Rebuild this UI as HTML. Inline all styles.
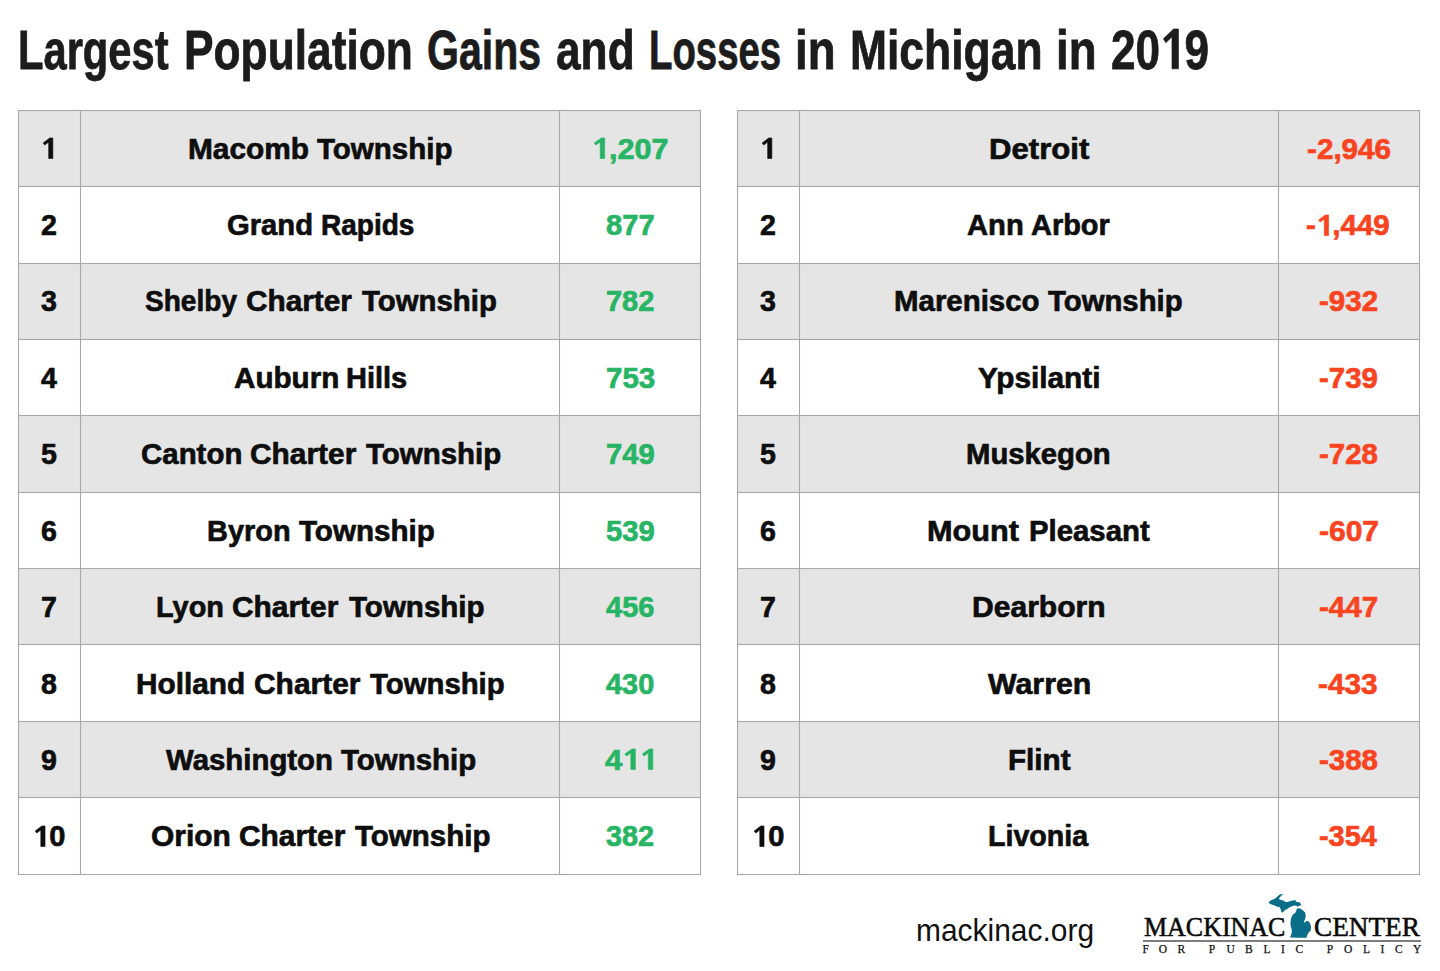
<!DOCTYPE html>
<html><head><meta charset="utf-8"><style>
html,body{margin:0;padding:0;background:#fff;}
body{width:1440px;height:971px;position:relative;overflow:hidden;font-family:"Liberation Sans",sans-serif;}
.bg{position:absolute;background:#e5e5e5;}
.hl{position:absolute;height:1px;background:#a9a9a9;box-shadow:0 0 1px rgba(0,0,0,0.18);}
.vl{position:absolute;width:1px;background:#a9a9a9;box-shadow:0 0 1px rgba(0,0,0,0.18);}
.t{position:absolute;-webkit-text-stroke:0.65px currentColor;font-weight:bold;font-size:28.6px;line-height:40px;height:40px;white-space:nowrap;transform-origin:0 0;}
.ctr{text-align:center;}
.one{display:inline-block;vertical-align:baseline;overflow:visible;}
.one path{fill:currentColor;stroke:currentColor;stroke-width:22;stroke-linejoin:miter;}
.ti .one path{stroke-width:14;}
.k{color:#0e0e0e;}
.g{color:#27b565;}
.r{color:#f9441f;}
.ti{font-size:55.6px;line-height:70px;height:70px;color:#1c1c1c;-webkit-text-stroke:0.8px #1c1c1c;}
.url{-webkit-text-stroke:0;font-weight:normal;font-size:30.5px;line-height:40px;height:40px;color:#111;}
.lg{-webkit-text-stroke:0.55px #0a0a0a;font-family:"Liberation Serif",serif;font-weight:normal;font-size:27.6px;line-height:30px;height:30px;color:#0a0a0a;}
.rule{position:absolute;left:1143px;top:940px;width:278px;height:2px;background:#7d7d7d;}
.fpp{position:absolute;-webkit-text-stroke:0.25px #111;font-family:"Liberation Serif",serif;font-size:11.5px;line-height:14px;color:#111;}
</style></head><body>
<div class="bg" style="left:18px;top:110px;width:682px;height:76px"></div>
<div class="bg" style="left:737px;top:110px;width:682px;height:76px"></div>
<div class="bg" style="left:18px;top:263px;width:682px;height:76px"></div>
<div class="bg" style="left:737px;top:263px;width:682px;height:76px"></div>
<div class="bg" style="left:18px;top:415px;width:682px;height:77px"></div>
<div class="bg" style="left:737px;top:415px;width:682px;height:77px"></div>
<div class="bg" style="left:18px;top:568px;width:682px;height:76px"></div>
<div class="bg" style="left:737px;top:568px;width:682px;height:76px"></div>
<div class="bg" style="left:18px;top:721px;width:682px;height:76px"></div>
<div class="bg" style="left:737px;top:721px;width:682px;height:76px"></div>
<div class="hl" style="left:18px;top:110px;width:683px"></div>
<div class="hl" style="left:18px;top:186px;width:683px"></div>
<div class="hl" style="left:18px;top:263px;width:683px"></div>
<div class="hl" style="left:18px;top:339px;width:683px"></div>
<div class="hl" style="left:18px;top:415px;width:683px"></div>
<div class="hl" style="left:18px;top:492px;width:683px"></div>
<div class="hl" style="left:18px;top:568px;width:683px"></div>
<div class="hl" style="left:18px;top:644px;width:683px"></div>
<div class="hl" style="left:18px;top:721px;width:683px"></div>
<div class="hl" style="left:18px;top:797px;width:683px"></div>
<div class="hl" style="left:18px;top:874px;width:683px"></div>
<div class="vl" style="left:18px;top:110px;height:765px"></div>
<div class="vl" style="left:80px;top:110px;height:765px"></div>
<div class="vl" style="left:559px;top:110px;height:765px"></div>
<div class="vl" style="left:700px;top:110px;height:765px"></div>
<div class="hl" style="left:737px;top:110px;width:683px"></div>
<div class="hl" style="left:737px;top:186px;width:683px"></div>
<div class="hl" style="left:737px;top:263px;width:683px"></div>
<div class="hl" style="left:737px;top:339px;width:683px"></div>
<div class="hl" style="left:737px;top:415px;width:683px"></div>
<div class="hl" style="left:737px;top:492px;width:683px"></div>
<div class="hl" style="left:737px;top:568px;width:683px"></div>
<div class="hl" style="left:737px;top:644px;width:683px"></div>
<div class="hl" style="left:737px;top:721px;width:683px"></div>
<div class="hl" style="left:737px;top:797px;width:683px"></div>
<div class="hl" style="left:737px;top:874px;width:683px"></div>
<div class="vl" style="left:737px;top:110px;height:765px"></div>
<div class="vl" style="left:799px;top:110px;height:765px"></div>
<div class="vl" style="left:1278px;top:110px;height:765px"></div>
<div class="vl" style="left:1419px;top:110px;height:765px"></div>
<div class="t k" id="ln0_0" style="left:187.79px;top:128.60px;transform:scaleX(1.0436)">Macomb</div>
<div class="t k" id="ln0_1" style="left:316.85px;top:128.60px;transform:scaleX(1.0318)">Township</div>
<div class="t g" id="lv0" style="left:591.62px;top:128.60px;transform:scaleX(1.0684)"><svg class="one" viewBox="0 0 556 716" width="0.556em" height="0.716em"><path d="M304,0 L414,0 L414,716 L269,716 L269,141 L128,247 L75,176 Z"/></svg>,207</div>
<div class="t k" id="rn0_0" style="left:988.96px;top:128.60px;transform:scaleX(1.0890)">Detroit</div>
<div class="t r" id="rv0" style="left:1306.94px;top:128.60px;transform:scaleX(1.0374)">-2,946</div>
<div class="t k ctr" id="lr0" style="left:18px;top:128.60px;width:62px"><svg class="one" viewBox="0 0 556 716" width="0.556em" height="0.716em"><path d="M304,0 L414,0 L414,716 L269,716 L269,141 L128,247 L75,176 Z"/></svg></div>
<div class="t k ctr" id="rr0" style="left:737px;top:128.60px;width:62px"><svg class="one" viewBox="0 0 556 716" width="0.556em" height="0.716em"><path d="M304,0 L414,0 L414,716 L269,716 L269,141 L128,247 L75,176 Z"/></svg></div>
<div class="t k" id="ln1_0" style="left:227.08px;top:205.00px;transform:scaleX(1.0217)">Grand</div>
<div class="t k" id="ln1_1" style="left:321.36px;top:205.00px;transform:scaleX(0.9803)">Rapids</div>
<div class="t g" id="lv1" style="left:605.51px;top:205.00px;transform:scaleX(1.0186)">877</div>
<div class="t k" id="rn1_0" style="left:966.60px;top:205.00px;transform:scaleX(1.0208)">Ann</div>
<div class="t k" id="rn1_1" style="left:1030.80px;top:205.00px;transform:scaleX(1.0117)">Arbor</div>
<div class="t r" id="rv1" style="left:1306.45px;top:205.00px;transform:scaleX(1.0329)">-<svg class="one" viewBox="0 0 556 716" width="0.556em" height="0.716em"><path d="M304,0 L414,0 L414,716 L269,716 L269,141 L128,247 L75,176 Z"/></svg>,449</div>
<div class="t k ctr" id="lr1" style="left:18px;top:205.00px;width:62px">2</div>
<div class="t k ctr" id="rr1" style="left:737px;top:205.00px;width:62px">2</div>
<div class="t k" id="ln2_0" style="left:144.75px;top:281.40px;transform:scaleX(0.9813)">Shelby</div>
<div class="t k" id="ln2_1" style="left:246.00px;top:281.40px;transform:scaleX(1.0418)">Charter</div>
<div class="t k" id="ln2_2" style="left:362.04px;top:281.40px;transform:scaleX(1.0268)">Township</div>
<div class="t g" id="lv2" style="left:605.60px;top:281.40px;transform:scaleX(1.0136)">782</div>
<div class="t k" id="rn2_0" style="left:893.92px;top:281.40px;transform:scaleX(1.0292)">Marenisco</div>
<div class="t k" id="rn2_1" style="left:1048.35px;top:281.40px;transform:scaleX(1.0255)">Township</div>
<div class="t r" id="rv2" style="left:1318.94px;top:281.40px;transform:scaleX(1.0315)">-932</div>
<div class="t k ctr" id="lr2" style="left:18px;top:281.40px;width:62px">3</div>
<div class="t k ctr" id="rr2" style="left:737px;top:281.40px;width:62px">3</div>
<div class="t k" id="ln3_0" style="left:233.76px;top:357.80px;transform:scaleX(1.0360)">Auburn</div>
<div class="t k" id="ln3_1" style="left:346.28px;top:357.80px;transform:scaleX(1.0132)">Hills</div>
<div class="t g" id="lv3" style="left:605.98px;top:357.80px;transform:scaleX(1.0312)">753</div>
<div class="t k" id="rn3_0" style="left:978.47px;top:357.80px;transform:scaleX(1.0416)">Ypsilanti</div>
<div class="t r" id="rv3" style="left:1318.52px;top:357.80px;transform:scaleX(1.0286)">-739</div>
<div class="t k ctr" id="lr3" style="left:18px;top:357.80px;width:62px">4</div>
<div class="t k ctr" id="rr3" style="left:737px;top:357.80px;width:62px">4</div>
<div class="t k" id="ln4_0" style="left:140.61px;top:434.20px;transform:scaleX(1.0295)">Canton</div>
<div class="t k" id="ln4_1" style="left:249.83px;top:434.20px;transform:scaleX(1.0449)">Charter</div>
<div class="t k" id="ln4_2" style="left:365.73px;top:434.20px;transform:scaleX(1.0301)">Township</div>
<div class="t g" id="lv4" style="left:605.60px;top:434.20px;transform:scaleX(1.0243)">749</div>
<div class="t k" id="rn4_0" style="left:966.30px;top:434.20px;transform:scaleX(1.0235)">Muskegon</div>
<div class="t r" id="rv4" style="left:1319.07px;top:434.20px;transform:scaleX(1.0294)">-728</div>
<div class="t k ctr" id="lr4" style="left:18px;top:434.20px;width:62px">5</div>
<div class="t k ctr" id="rr4" style="left:737px;top:434.20px;width:62px">5</div>
<div class="t k" id="ln5_0" style="left:207.20px;top:510.60px;transform:scaleX(1.0121)">Byron</div>
<div class="t k" id="ln5_1" style="left:298.73px;top:510.60px;transform:scaleX(1.0343)">Township</div>
<div class="t g" id="lv5" style="left:605.92px;top:510.60px;transform:scaleX(1.0239)">539</div>
<div class="t k" id="rn5_0" style="left:927.47px;top:510.60px;transform:scaleX(1.0718)">Mount</div>
<div class="t k" id="rn5_1" style="left:1028.96px;top:510.60px;transform:scaleX(1.0259)">Pleasant</div>
<div class="t r" id="rv5" style="left:1318.53px;top:510.60px;transform:scaleX(1.0475)">-607</div>
<div class="t k ctr" id="lr5" style="left:18px;top:510.60px;width:62px">6</div>
<div class="t k ctr" id="rr5" style="left:737px;top:510.60px;width:62px">6</div>
<div class="t k" id="ln6_0" style="left:156.42px;top:587.00px;transform:scaleX(1.0104)">Lyon</div>
<div class="t k" id="ln6_1" style="left:232.33px;top:587.00px;transform:scaleX(1.0449)">Charter</div>
<div class="t k" id="ln6_2" style="left:348.76px;top:587.00px;transform:scaleX(1.0328)">Township</div>
<div class="t g" id="lv6" style="left:606.15px;top:587.00px;transform:scaleX(1.0147)">456</div>
<div class="t k" id="rn6_0" style="left:972.44px;top:587.00px;transform:scaleX(1.0513)">Dearborn</div>
<div class="t r" id="rv6" style="left:1318.94px;top:587.00px;transform:scaleX(1.0349)">-447</div>
<div class="t k ctr" id="lr6" style="left:18px;top:587.00px;width:62px">7</div>
<div class="t k ctr" id="rr6" style="left:737px;top:587.00px;width:62px">7</div>
<div class="t k" id="ln7_0" style="left:135.70px;top:664.20px;transform:scaleX(1.0417)">Holland</div>
<div class="t k" id="ln7_1" style="left:253.86px;top:664.20px;transform:scaleX(1.0471)">Charter</div>
<div class="t k" id="ln7_2" style="left:370.06px;top:664.20px;transform:scaleX(1.0257)">Township</div>
<div class="t g" id="lv7" style="left:605.82px;top:664.20px;transform:scaleX(1.0112)">430</div>
<div class="t k" id="rn7_0" style="left:988.25px;top:664.20px;transform:scaleX(1.0606)">Warren</div>
<div class="t r" id="rv7" style="left:1318.49px;top:664.20px;transform:scaleX(1.0380)">-433</div>
<div class="t k ctr" id="lr7" style="left:18px;top:664.20px;width:62px">8</div>
<div class="t k ctr" id="rr7" style="left:737px;top:664.20px;width:62px">8</div>
<div class="t k" id="ln8_0" style="left:165.64px;top:739.80px;transform:scaleX(1.0275)">Washington</div>
<div class="t k" id="ln8_1" style="left:341.18px;top:739.80px;transform:scaleX(1.0303)">Township</div>
<div class="t g" id="lv8" style="left:604.70px;top:739.80px;transform:scaleX(1.0906)">4<svg class="one" viewBox="0 0 556 716" width="0.556em" height="0.716em"><path d="M304,0 L414,0 L414,716 L269,716 L269,141 L128,247 L75,176 Z"/></svg><svg class="one" viewBox="0 0 556 716" width="0.556em" height="0.716em"><path d="M304,0 L414,0 L414,716 L269,716 L269,141 L128,247 L75,176 Z"/></svg></div>
<div class="t k" id="rn8_0" style="left:1007.67px;top:739.80px;transform:scaleX(1.0373)">Flint</div>
<div class="t r" id="rv8" style="left:1319.07px;top:739.80px;transform:scaleX(1.0294)">-388</div>
<div class="t k ctr" id="lr8" style="left:18px;top:739.80px;width:62px">9</div>
<div class="t k ctr" id="rr8" style="left:737px;top:739.80px;width:62px">9</div>
<div class="t k" id="ln9_0" style="left:150.50px;top:816.20px;transform:scaleX(1.0478)">Orion</div>
<div class="t k" id="ln9_1" style="left:238.58px;top:816.20px;transform:scaleX(1.0448)">Charter</div>
<div class="t k" id="ln9_2" style="left:355.01px;top:816.20px;transform:scaleX(1.0312)">Township</div>
<div class="t g" id="lv9" style="left:605.52px;top:816.20px;transform:scaleX(1.0084)">382</div>
<div class="t k" id="rn9_0" style="left:988.25px;top:816.20px;transform:scaleX(1.0005)">Livonia</div>
<div class="t r" id="rv9" style="left:1318.71px;top:816.20px;transform:scaleX(1.0107)">-354</div>
<div class="t k" id="lr9" style="left:33.18px;top:816.20px;transform:scaleX(1.0157)"><svg class="one" viewBox="0 0 556 716" width="0.556em" height="0.716em"><path d="M304,0 L414,0 L414,716 L269,716 L269,141 L128,247 L75,176 Z"/></svg>0</div>
<div class="t k" id="rr9" style="left:752.18px;top:816.20px;transform:scaleX(1.0157)"><svg class="one" viewBox="0 0 556 716" width="0.556em" height="0.716em"><path d="M304,0 L414,0 L414,716 L269,716 L269,141 L128,247 L75,176 Z"/></svg>0</div>
<div class="t ti" id="ti0" style="left:17.54px;top:14.90px;transform:scaleX(0.7497)">Largest</div>
<div class="t ti" id="ti1" style="left:183.56px;top:14.90px;transform:scaleX(0.7970)">Population</div>
<div class="t ti" id="ti2" style="left:426.94px;top:14.90px;transform:scaleX(0.7385)">Gains</div>
<div class="t ti" id="ti3" style="left:555.72px;top:14.90px;transform:scaleX(0.7961)">and</div>
<div class="t ti" id="ti4" style="left:648.89px;top:14.90px;transform:scaleX(0.6900)">Losses</div>
<div class="t ti" id="ti5" style="left:795.39px;top:14.90px;transform:scaleX(0.8206)">in</div>
<div class="t ti" id="ti6" style="left:850.37px;top:14.90px;transform:scaleX(0.7993)">Michigan</div>
<div class="t ti" id="ti7" style="left:1056.39px;top:14.90px;transform:scaleX(0.8212)">in</div>
<div class="t ti" id="ti8" style="left:1111.34px;top:14.90px;transform:scaleX(0.7928)">20<svg class="one" viewBox="0 0 556 716" width="0.556em" height="0.716em"><path d="M304,0 L414,0 L414,716 L269,716 L269,141 L128,247 L75,176 Z"/></svg>9</div>
<div class="t url" id="url" style="left:916.26px;top:910.20px;transform:scaleX(0.9816)">mackinac.org</div>
<div class="t lg" id="mack" style="left:1144.01px;top:912.30px;transform:scaleX(0.9414)">MACKINAC</div>
<div class="t lg" id="cent" style="left:1314.25px;top:912.30px;transform:scaleX(0.9867)">CENTER</div>
<div class="rule"></div>
<svg style="position:absolute;left:1260px;top:888px" width="60" height="54" viewBox="1260 888 60 54"><path d="M1268.6,902.2 L1270.6,900.6 1274.2,898.9 1276.1,897.8 1276.9,896.9 1279.7,894.4 1281.7,893.9 1283.1,894.3 1281.4,895.6 1280,897.2 1278.6,898.9 1280.6,899.7 1283.3,900.6 1285.6,901.9 1287.8,901.9 1290,901.1 1292.8,900.6 1295.6,900 1295.8,901.4 1298.3,902.2 1300,902.5 1300.8,904.2 1301.7,905.3 1299.7,905.6 1297.8,906.7 1296.9,906.1 1294.2,905.6 1291.4,906.4 1288.9,907.8 1286.9,909.2 1285,910 1283.3,911.9 1282.2,912.8 1281.4,911.7 1280.8,909.4 1279.7,907.2 1276.7,906.4 1273.3,905 1270,903.9 Z M1297.3,908.2 L1300.1,908.6 1303,910.4 1305.2,912.6 1305.7,915.8 1305.2,918.7 1304.1,921.2 1303.7,923 1305.2,921.9 1306.6,920.9 1308.4,921.2 1309.9,923 1311,926.6 1310.8,930.2 1309.5,931.7 1308.1,933.5 1307,935.6 1306.6,937.8 1299.4,937.8 1290,937.6 1290.8,935.6 1291.7,933.1 1291.8,929.9 1290.8,926.6 1290.4,923 1291.1,918.3 1292.6,915.1 1294.4,913.3 1295.8,912.2 1296.5,909.7 Z" fill="#0a6e8a"/></svg>
<div class="fpp" style="left:1142.40px;top:942.00px">F</div>
<div class="fpp" style="left:1158.80px;top:942.00px">O</div>
<div class="fpp" style="left:1177.60px;top:942.00px">R</div>
<div class="fpp" style="left:1208.70px;top:942.00px">P</div>
<div class="fpp" style="left:1226.40px;top:942.00px">U</div>
<div class="fpp" style="left:1245.10px;top:942.00px">B</div>
<div class="fpp" style="left:1263.45px;top:942.00px">L</div>
<div class="fpp" style="left:1280.95px;top:942.00px">I</div>
<div class="fpp" style="left:1295.50px;top:942.00px">C</div>
<div class="fpp" style="left:1326.80px;top:942.00px">P</div>
<div class="fpp" style="left:1343.90px;top:942.00px">O</div>
<div class="fpp" style="left:1363.00px;top:942.00px">L</div>
<div class="fpp" style="left:1380.50px;top:942.00px">I</div>
<div class="fpp" style="left:1395.10px;top:942.00px">C</div>
<div class="fpp" style="left:1413.00px;top:942.00px">Y</div>
</body></html>
